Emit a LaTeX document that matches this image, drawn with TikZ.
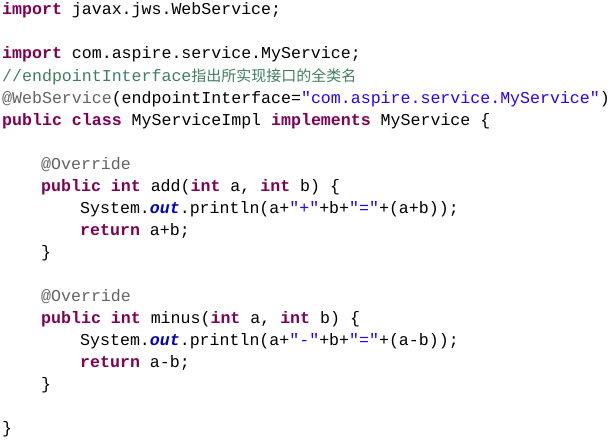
\documentclass[tikz,border=0pt]{standalone}
\usepackage{fontspec}
\setmonofont{Liberation Mono}
\newfontfamily\cjk{Noto Sans CJK SC}
\definecolor{kwc}{HTML}{7F0055}
\definecolor{strc}{HTML}{2A00FF}
\definecolor{anc}{HTML}{646464}
\definecolor{cmc}{HTML}{3F7F5F}
\definecolor{fldc}{HTML}{0000C0}
\newcommand{\jkw}[1]{{\bfseries\color{kwc}#1}}
\newcommand{\jstr}[1]{{\color{strc}#1}}
\newcommand{\jan}[1]{{\color{anc}#1}}
\newcommand{\jcm}[1]{{\color{cmc}#1}}
\newcommand{\jfld}[1]{{\bfseries\itshape\color{fldc}#1}}
\begin{document}
\begin{tikzpicture}[x=1pt,y=-1pt,
  code/.style={anchor=base west,inner sep=0pt,font=\ttfamily\fontsize{16.6}{20}\selectfont}]
\useasboundingbox[fill=white] (0,0) rectangle (612,444);
\node[code] (l1) at (2,15) {\jkw{import} javax.jws.WebService;};
\node[code] (l2) at (2,59) {\jkw{import} com.aspire.service.MyService;};
\node[code] (l3) at (2,81) {\jcm{//endpointInterface{\cjk\fontsize{15}{18}\selectfont 指出所实现接口的全类名}}};
\node[code] (l4) at (2,103) {\jan{@WebService}(endpointInterface=\jstr{"com.aspire.service.MyService"})};
\node[code] (l5) at (2,125) {\jkw{public} \jkw{class} MyServiceImpl \jkw{implements} MyService \{};
\node[code] (l6) at (41,169) {\jan{@Override}};
\node[code] (l7) at (41,191) {\jkw{public} \jkw{int} add(\jkw{int} a, \jkw{int} b) \{};
\node[code] (l8) at (80,213) {System.\jfld{out}.println(a+\jstr{"+"}+b+\jstr{"="}+(a+b));};
\node[code] (l9) at (80,235) {\jkw{return} a+b;};
\node[code] (l10) at (41,257) {\}};
\node[code] (l11) at (41,301) {\jan{@Override}};
\node[code] (l12) at (41,323) {\jkw{public} \jkw{int} minus(\jkw{int} a, \jkw{int} b) \{};
\node[code] (l13) at (80,345) {System.\jfld{out}.println(a+\jstr{"-"}+b+\jstr{"="}+(a-b));};
\node[code] (l14) at (80,367) {\jkw{return} a-b;};
\node[code] (l15) at (41,389) {\}};
\node[code] (l16) at (2,433) {\}};
\end{tikzpicture}
\end{document}
